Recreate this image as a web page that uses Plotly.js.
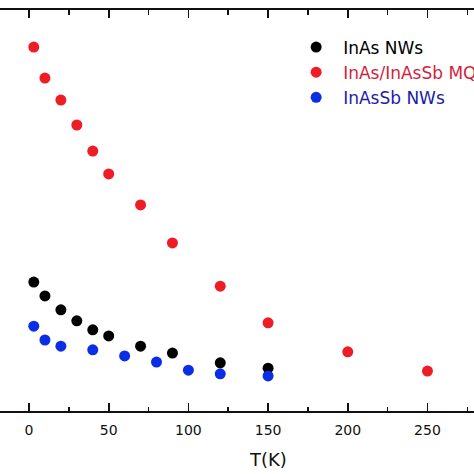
<!DOCTYPE html>
<html>
<head>
<meta charset="utf-8">
<script src="https://cdn.plot.ly/plotly-3.0.1.min.js"></script>
<style>html,body{margin:0;padding:0;background:#fff;}#chart{width:474px;height:474px;}</style>
</head>
<body>
<div id="chart"></div>
<script>
// Temperature (K) and signal (arb. units) for each nanowire series
const tInAs = [3, 10, 20, 30, 40, 50, 70, 90, 120, 150];
const yInAs = [31.6, 28.2, 24.8, 22.1, 19.9, 18.4, 15.9, 14.2, 11.8, 10.5];

const tMQW = [3, 10, 20, 30, 40, 50, 70, 90, 120, 150, 200, 250];
const yMQW = [89.2, 81.6, 76.2, 70.1, 63.7, 58.1, 50.5, 41.2, 30.6, 21.6, 14.5, 9.8];

const tInAsSb = [3, 10, 20, 40, 60, 80, 100, 120, 150];
const yInAsSb = [20.8, 17.4, 15.9, 15.0, 13.5, 12.0, 10.0, 9.1, 8.6];

const seriesNames = ['InAs NWs', 'InAs/InAsSb MQW NWs', 'InAsSb NWs'];
const markerColors = ['#000000', '#ee1c24', '#0a2ee6'];
const labelColors = ['#000000', '#d21f3c', '#1c1ca8'];

const xs = [tInAs, tMQW, tInAsSb];
const ys = [yInAs, yMQW, yInAsSb];

const traces = xs.map((x, i) => ({
  x: x,
  y: ys[i],
  type: 'scatter',
  mode: 'markers',
  name: '<span style="color:' + labelColors[i] + '">' + seriesNames[i] + '</span>',
  marker: {color: markerColors[i], size: 11}
}));

const topMargin = 10;
const bottomMargin = 63;
const plotHeight = 474 - topMargin - bottomMargin;
const frameColor = '#111';

const layout = {
  width: 474,
  height: 474,
  margin: {l: 0, r: 0, t: topMargin, b: bottomMargin, autoexpand: false},
  paper_bgcolor: '#ffffff',
  plot_bgcolor: '#ffffff',
  font: {family: 'DejaVu Sans, sans-serif', color: '#111'},
  showlegend: true,
  legend: {
    x: 0.610, y: 0.935 * 408 / plotHeight, xanchor: 'left', yanchor: 'top',
    bgcolor: 'rgba(0,0,0,0)',
    font: {size: 17},
    itemwidth: 44,
    itemclick: false
  },
  xaxis: {
    range: [-18.2, 279.2],
    tick0: 0, dtick: 50,
    ticks: 'inside', ticklen: 8, tickwidth: 1.6, tickcolor: frameColor,
    minor: {dtick: 25, ticks: 'inside', ticklen: 4.5, tickwidth: 1.6, tickcolor: frameColor},
    showline: true, linewidth: 2.2, linecolor: frameColor, mirror: 'ticks',
    showgrid: false, zeroline: false,
    tickfont: {size: 14, color: '#111'},
    ticklabelstandoff: 5
  },
  yaxis: {
    range: [0, plotHeight / 4.08],
    showline: false, showticklabels: false, ticks: '',
    showgrid: false, zeroline: false
  },
  annotations: [{
    text: 'T(K)', x: 150, xref: 'x', y: 0, yref: 'paper',
    yanchor: 'middle', yshift: -48, showarrow: false,
    font: {size: 18, color: '#111'}
  }]
};

Plotly.newPlot('chart', traces, layout, {staticPlot: true, displayModeBar: false});
</script>
</body>
</html>
